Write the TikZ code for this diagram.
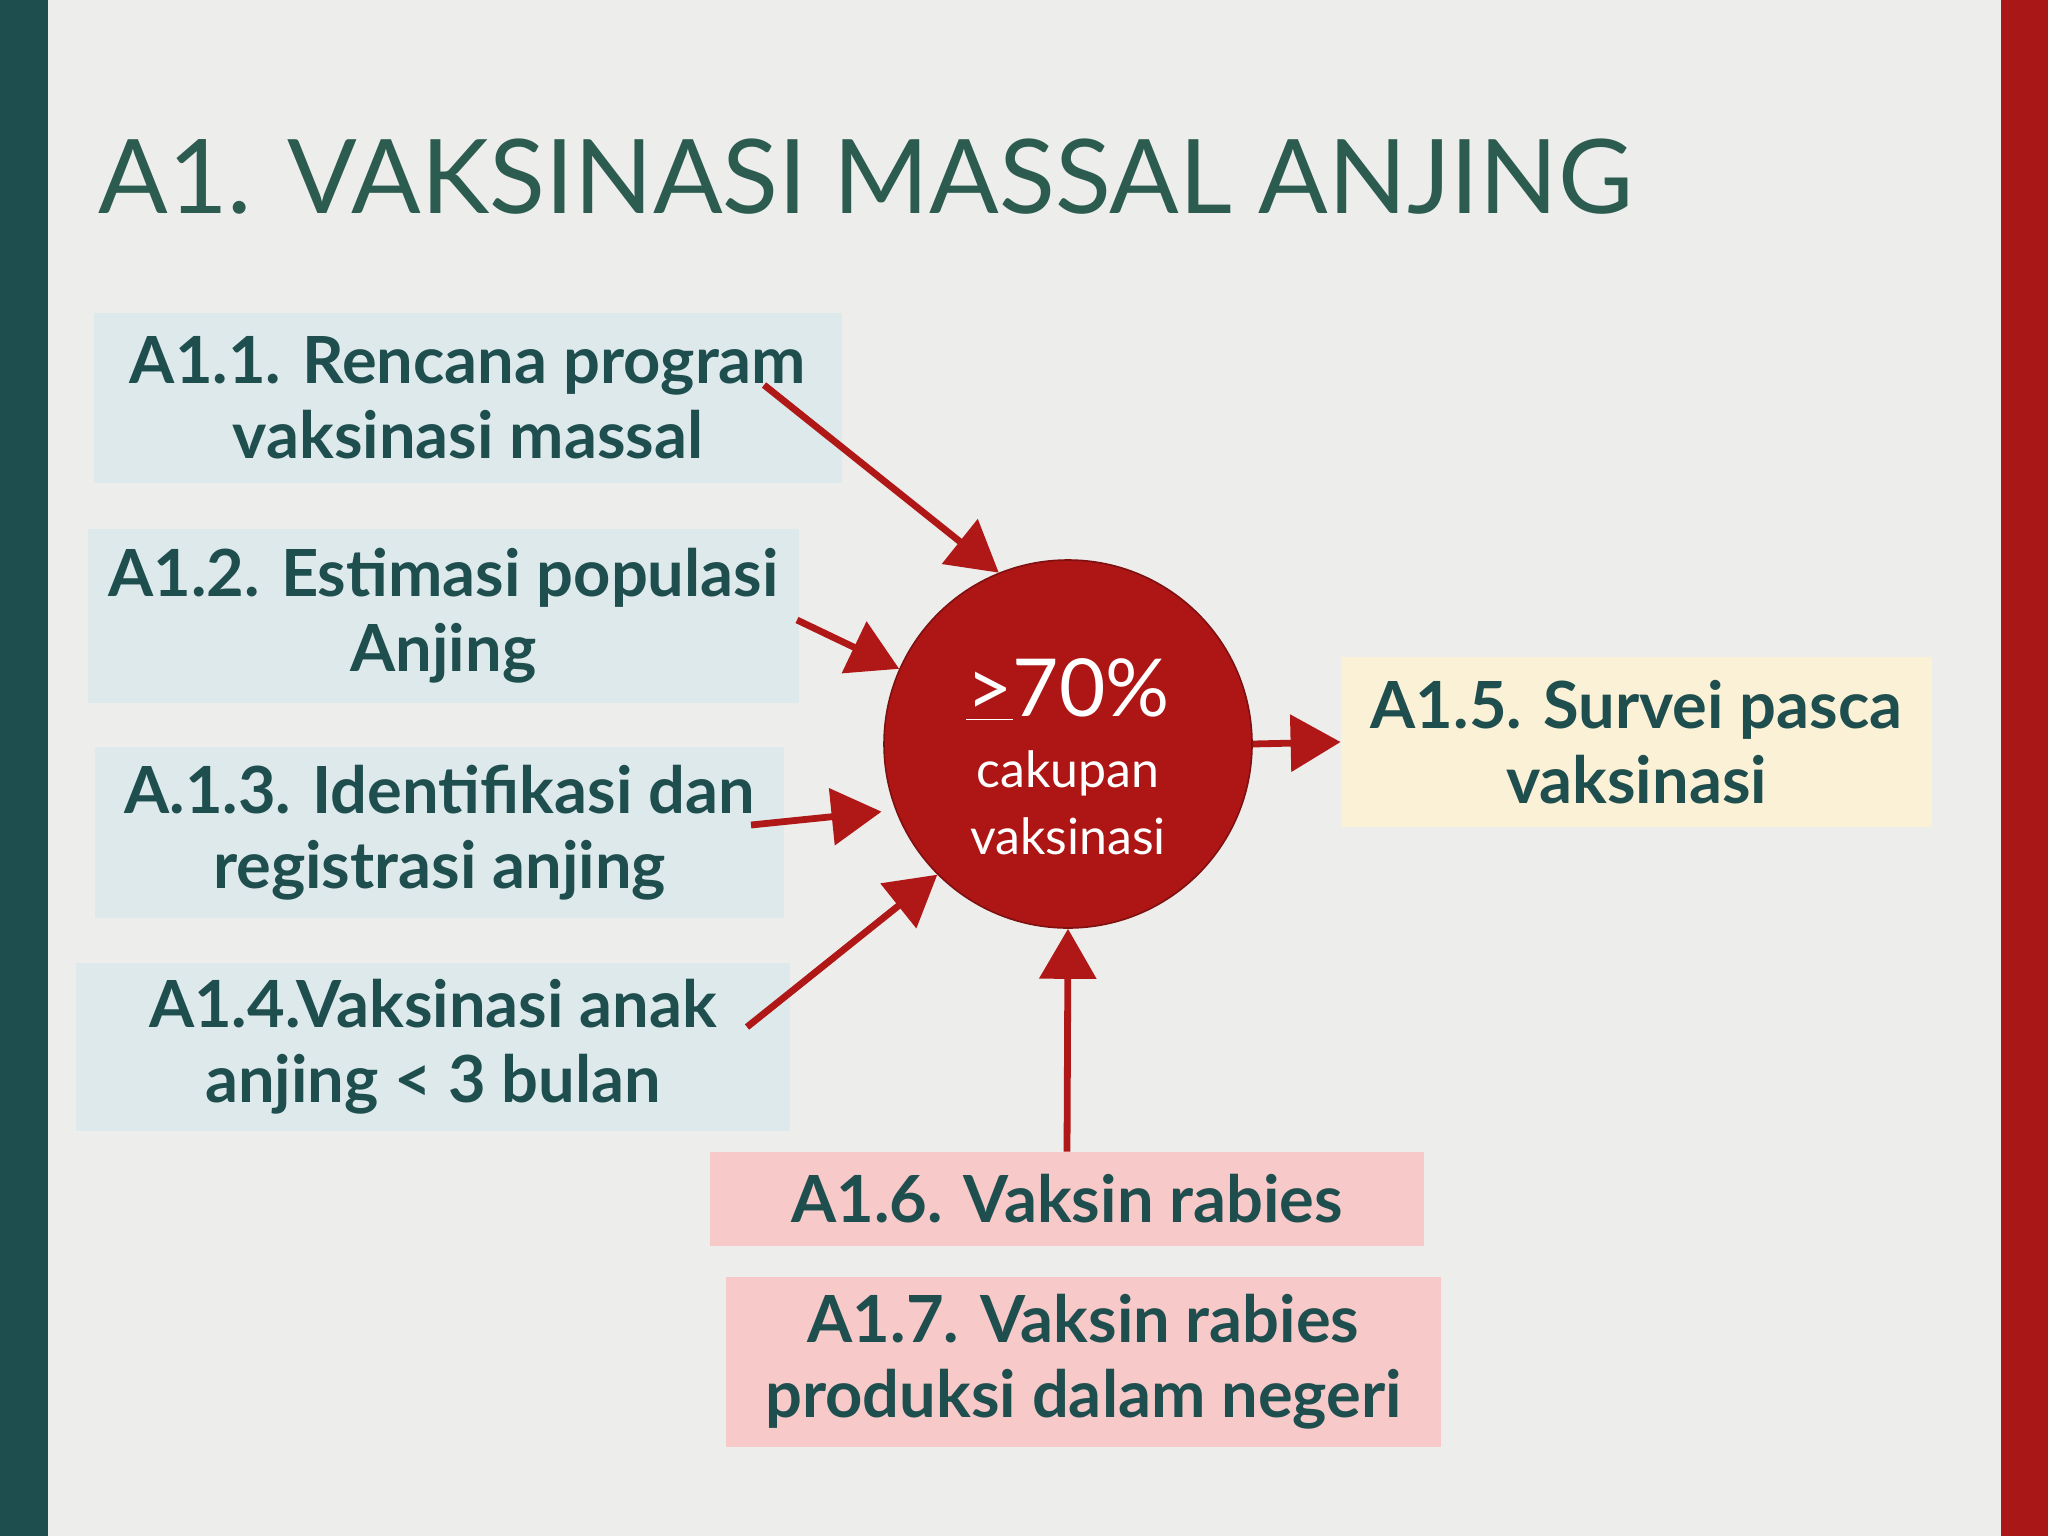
\documentclass[tikz,border=0pt]{standalone}
\usepackage{fontspec}
\setmainfont{Lato}
\usetikzlibrary{arrows.meta}
\definecolor{bgc}{HTML}{EDEDEB}
\definecolor{tealbar}{HTML}{1F4E4F}
\definecolor{redbar}{HTML}{A91717}
\definecolor{txt}{HTML}{1F4E4F}
\definecolor{titlec}{HTML}{2C5B4F}
\definecolor{bluebox}{HTML}{DEE9EC}
\definecolor{yellowbox}{HTML}{FBF1D6}
\definecolor{pinkbox}{HTML}{F7C9C9}
\definecolor{circfill}{HTML}{AE1616}
\definecolor{circline}{HTML}{7E1010}
\definecolor{arrowc}{HTML}{B01818}
\tikzset{
  boxnode/.style={inner sep=0pt, align=center, text=txt,
    font=\fontsize{32.5}{37.5}\selectfont\bfseries},
  flow/.style={draw=arrowc, line width=3.4pt,
    -{Triangle[length=25pt,width=28pt]}, arrowc},
}
\begin{document}
\begin{tikzpicture}[x=0.5pt,y=-0.5pt]
\useasboundingbox (0,0) rectangle (2048,1536);
\fill[bgc] (0,0) rectangle (2048,1536);
\fill[tealbar] (0,0) rectangle (48,1536);
\fill[redbar] (2001,0) rectangle (2048,1536);

\node[anchor=base west, inner sep=0pt, text=titlec, font=\fontsize{51.5}{60}\selectfont] (title) at (98,213) {A1. VAKSINASI MASSAL ANJING};

\node[boxnode, fill=bluebox, minimum width=374pt, minimum height=85pt] (b1) at (468,398) {A1.1. Rencana program\\vaksinasi massal};
\node[boxnode, fill=bluebox, minimum width=355.5pt, minimum height=87pt] (b2) at (443.5,616) {A1.2. Estimasi populasi\\Anjing};
\node[boxnode, fill=bluebox, minimum width=344.5pt, minimum height=85.5pt] (b3) at (439.5,832.5) {A.1.3. Identifikasi dan\\registrasi anjing};
\node[boxnode, fill=bluebox, minimum width=357pt, minimum height=84pt] (b4) at (433,1047) {A1.4.Vaksinasi anak\\anjing < 3 bulan};
\node[boxnode, fill=yellowbox, minimum width=295.5pt, minimum height=85pt] (b5) at (1636.5,742) {A1.5. Survei pasca\\vaksinasi};
\node[boxnode, fill=pinkbox, minimum width=357pt, minimum height=47pt] (b6) at (1067,1199) {A1.6. Vaksin rabies};
\node[boxnode, fill=pinkbox, minimum width=357.5pt, minimum height=85pt] (b7) at (1083.5,1362) {A1.7. Vaksin rabies\\produksi dalam negeri};

\node[circle, fill=circfill, draw=circline, line width=0.8pt, minimum size=184pt, inner sep=0pt] (c) at (1068,744) {};
\node[align=center, text=white, inner sep=0pt, font=\fontsize{25}{33.5}\selectfont] (ct) at (1068,757)
  {{\fontsize{40}{44}\selectfont\underline{>}70\%}\\[2pt]cakupan\\vaksinasi};

\coordinate (s1) at (764,385);
\coordinate (s2) at (797,620);
\coordinate (s3) at (751,825);
\coordinate (s4) at (747,1027);

\draw[flow] (s1) -- (c.112);
\draw[flow] (s2) -- (c.156);
\draw[flow, shorten >=7pt] (s3) -- (c.201);
\draw[flow] (s4) -- (c.225);
\draw[flow] (c.east) -- (b5.west);
\draw[flow] (b6.north) -- (c.south);
\end{tikzpicture}
\end{document}
